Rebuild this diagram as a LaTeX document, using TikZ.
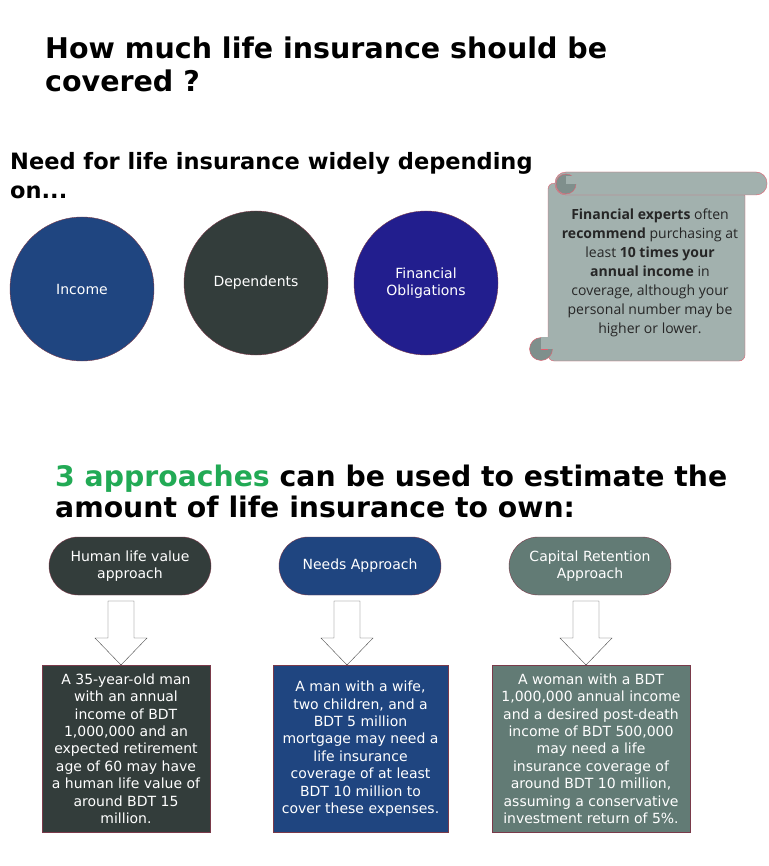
\documentclass[tikz,border=0pt]{standalone}
\usepackage{fontspec}
\usetikzlibrary{shapes.misc}
\setmainfont{DejaVu Sans}
\newfontfamily\scrollfont{Open Sans}
\definecolor{cblue}{HTML}{1F4580}
\definecolor{cdark}{HTML}{333D3B}
\definecolor{cnavy}{HTML}{221E8E}
\definecolor{cgreyg}{HTML}{627B75}
\definecolor{cscroll}{HTML}{A2B1AE}
\definecolor{cscrolld}{HTML}{7F8F8C}
\definecolor{cpink}{HTML}{E06070}
\definecolor{cborder}{HTML}{7A3A4A}
\definecolor{cgreen}{HTML}{22AA55}
\begin{document}
\begin{tikzpicture}[x=1pt,y=-1pt,
  circ/.style={circle,minimum size=144pt,draw=cborder,text=white,font=\fontsize{14}{17}\selectfont,align=center,inner sep=0pt},
  pill/.style={rounded rectangle,minimum width=162pt,minimum height=58pt,draw=cborder,text=white,font=\fontsize{14}{17}\selectfont,align=center,inner sep=0pt},
  exbox/.style={draw=cborder,text=white,font=\fontsize{14}{17.4}\selectfont,align=center,anchor=north,minimum height=167pt,inner sep=2pt},
  barrow/.style={draw=black!70,fill=white}]
\useasboundingbox (0,0) rectangle (768,866);
\fill[white] (0,0) rectangle (768,866);
\node[anchor=north west,align=left,font=\fontsize{28.5}{33}\selectfont\bfseries,inner sep=0pt] (title) at (45,37) {How much life insurance should be\\covered ?};
\node[anchor=north west,align=left,font=\fontsize{22.5}{29}\selectfont\bfseries,inner sep=0pt] (need) at (10,152) {Need for life insurance widely depending\\on...};
\node[circ,fill=cblue] (inc) at (82,289) {Income};
\node[circ,fill=cdark] (dep) at (256,283) {Dependents};
\node[circ,fill=cnavy] (fin) at (426,283) {Financial\\Obligations};
% scroll
\draw[draw=cpink,fill=cscroll,rounded corners=6pt] (548,183) -- (548,361) -- (745,361) -- (745,190) -- cycle;
\draw[draw=cpink,fill=cscroll,rounded corners=11pt] (555,172) rectangle (767,195);
\draw[draw=cpink,fill=cscrolld] (566,184) circle (10);
\fill[cscroll] (566,176) rectangle (577,184);
\draw[draw=cpink,fill=cscrolld] (541,349) circle (11.5);
\fill[cscroll] (541,349) rectangle (553,337);
\draw[cpink] (541,349) -- (548,349);
\node[align=center,font=\scrollfont\fontsize{14}{19}\selectfont,text=black!85] (tip) at (650,273) {\textbf{Financial experts} often\\\textbf{recommend} purchasing at\\least \textbf{10 times your}\\\textbf{annual income} in\\coverage, although your\\personal number may be\\higher or lower.};
\node[anchor=north west,align=left,font=\fontsize{28.3}{31}\selectfont\bfseries,inner sep=0pt] (appr) at (55,465) {\textcolor{cgreen}{3 approaches} can be used to estimate the\\amount of life insurance to own:};
\node[pill,fill=cdark] (p1) at (130,566) {Human life value\\approach};
\node[pill,fill=cblue] (p2) at (360,566) {Needs Approach};
\node[pill,fill=cgreyg] (p3) at (590,566) {Capital Retention\\Approach};
\foreach \cx in {121,347,586}{
 \draw[barrow] (\cx-13,601) -- (\cx+13,601) -- (\cx+13,638) -- (\cx+26,638) -- (\cx,665) -- (\cx-26,638) -- (\cx-13,638) -- cycle;}
\node[exbox,fill=cdark,minimum width=168pt] (b1) at (126,665) {A 35-year-old man\\with an annual\\income of BDT\\1,000,000 and an\\expected retirement\\age of 60 may have\\a human life value of\\around BDT 15\\million.};
\node[exbox,fill=cblue,minimum width=175pt] (b2) at (360.5,665) {A man with a wife,\\two children, and a\\BDT 5 million\\mortgage may need a\\life insurance\\coverage of at least\\BDT 10 million to\\cover these expenses.};
\node[exbox,fill=cgreyg,minimum width=198pt] (b3) at (591,665) {A woman with a BDT\\1,000,000 annual income\\and a desired post-death\\income of BDT 500,000\\may need a life\\insurance coverage of\\around BDT 10 million,\\assuming a conservative\\investment return of 5\%.};
\end{tikzpicture}
\end{document}
